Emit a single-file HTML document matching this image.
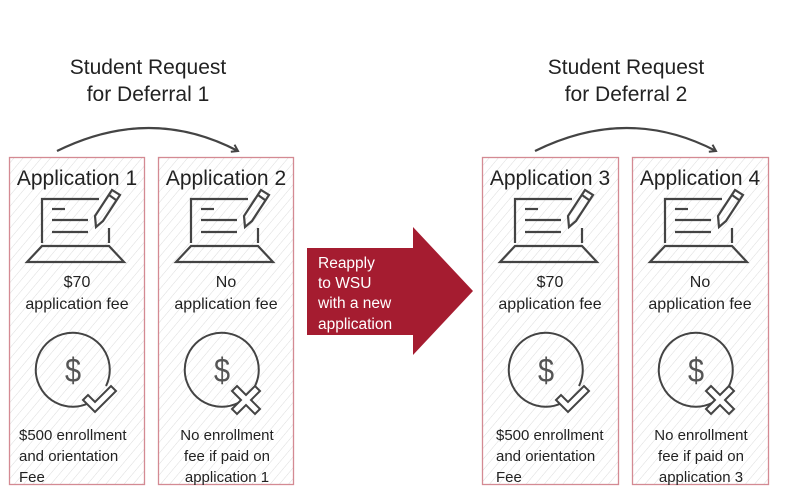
<!DOCTYPE html>
<html><head><style>
html,body{margin:0;padding:0;background:#fff}
svg{display:block}
text{font-family:"Liberation Sans",sans-serif;fill:#222}
text.w{fill:#fff}
text.d{fill:#555}
</style></head><body>
<svg width="792" height="494" viewBox="0 0 792 494" xmlns="http://www.w3.org/2000/svg">
<defs>
<pattern id="h" width="7" height="7" patternUnits="userSpaceOnUse" patternTransform="rotate(40)">
<line x1="0" y1="0" x2="0" y2="7" stroke="#dcdcdc" stroke-width="1"/>
</pattern>
<g id="lap" fill="none" stroke="#444" stroke-width="2.2">
<polyline points="-34,44 -34,0 23,0"/>
<line x1="33" y1="29" x2="33" y2="44"/>
<line x1="-24" y1="10" x2="-11" y2="10"/>
<line x1="-24" y1="21" x2="12" y2="21"/>
<line x1="-24" y1="33" x2="12" y2="33"/>
<polygon points="-34,47 33,47 48,63 -49,63"/>
<polygon points="20,28 19,17 36,-9 44,-4 27,22"/>
<line x1="33" y1="-4" x2="40" y2="1"/>
</g>
<g id="coin" fill="none" stroke="#444" stroke-width="2">
<path d="M 33 16 A 37 37 0 1 0 16 33"/>
<text class="d" x="0" y="12" text-anchor="middle" font-size="34" stroke="none" transform="scale(0.85,1)">$</text>
</g>
<g id="chk" fill="#fff" stroke="#444" stroke-width="2">
<polygon points="-14,0 -9,-5 -2,2 14,-14 19,-9 -2,12"/>
</g>
<g id="x" fill="#fff" stroke="#444" stroke-width="2">
<polygon points="-9,-14 0,-5 9,-14 14,-9 5,0 14,9 9,14 0,5 -9,14 -14,9 -5,0 -14,-9"/>
</g>
<marker id="ah" markerWidth="10" markerHeight="10" refX="7" refY="5" orient="auto" markerUnits="userSpaceOnUse">
<polyline points="1,1 7,5 1,9" fill="none" stroke="#444" stroke-width="2"/>
</marker>
</defs>

<text x="148" y="74" text-anchor="middle" font-size="21">Student Request</text>
<text x="148" y="101" text-anchor="middle" font-size="21">for Deferral 1</text>
<text x="626" y="74" text-anchor="middle" font-size="21">Student Request</text>
<text x="626" y="101" text-anchor="middle" font-size="21">for Deferral 2</text>
<path d="M57 151 Q150 105 238 151" fill="none" stroke="#444" stroke-width="2.2" marker-end="url(#ah)"/>
<path d="M535 151 Q628 105 716 151" fill="none" stroke="#444" stroke-width="2.2" marker-end="url(#ah)"/>

<g stroke="#d48a93" stroke-width="1.3" fill="url(#h)">
<rect x="9.5" y="157.5" width="135" height="327"/>
<rect x="158.5" y="157.5" width="135" height="327"/>
<rect x="482.5" y="157.5" width="136" height="327"/>
<rect x="632.5" y="157.5" width="136" height="327"/>
</g>

<g font-size="21" text-anchor="middle">
<text x="77" y="185">Application 1</text>
<text x="226" y="185">Application 2</text>
<text x="550" y="185">Application 3</text>
<text x="700" y="185">Application 4</text>
</g>

<use href="#lap" x="76" y="199"/>
<use href="#lap" x="225" y="199"/>
<use href="#lap" x="549" y="199"/>
<use href="#lap" x="699" y="199"/>

<g font-size="16" text-anchor="middle">
<text x="77" y="287">$70</text><text x="77" y="309">application fee</text>
<text x="226" y="287">No</text><text x="226" y="309">application fee</text>
<text x="550" y="287">$70</text><text x="550" y="309">application fee</text>
<text x="700" y="287">No</text><text x="700" y="309">application fee</text>
</g>

<use href="#coin" x="73" y="370"/><use href="#chk" x="97" y="400"/>
<use href="#coin" x="222" y="370"/><use href="#x" x="246" y="400"/>
<use href="#coin" x="546" y="370"/><use href="#chk" x="570" y="400"/>
<use href="#coin" x="696" y="370"/><use href="#x" x="720" y="400"/>

<g font-size="15">
<text x="19" y="440">$500 enrollment</text>
<text x="19" y="461">and orientation</text>
<text x="19" y="482">Fee</text>
<text x="496" y="440">$500 enrollment</text>
<text x="496" y="461">and orientation</text>
<text x="496" y="482">Fee</text>
</g>
<g font-size="15" text-anchor="middle">
<text x="227" y="440">No enrollment</text>
<text x="227" y="461">fee if paid on</text>
<text x="227" y="482">application 1</text>
<text x="701" y="440">No enrollment</text>
<text x="701" y="461">fee if paid on</text>
<text x="701" y="482">application 3</text>
</g>

<polygon points="307,248 413,248 413,227 473,291 413,355 413,335 307,335" fill="#a51c30"/>
<g font-size="15.5">
<text class="w" x="318" y="268">Reapply</text>
<text class="w" x="318" y="288">to WSU</text>
<text class="w" x="318" y="308">with a new</text>
<text class="w" x="318" y="329">application</text>
</g>
</svg>
</body></html>
